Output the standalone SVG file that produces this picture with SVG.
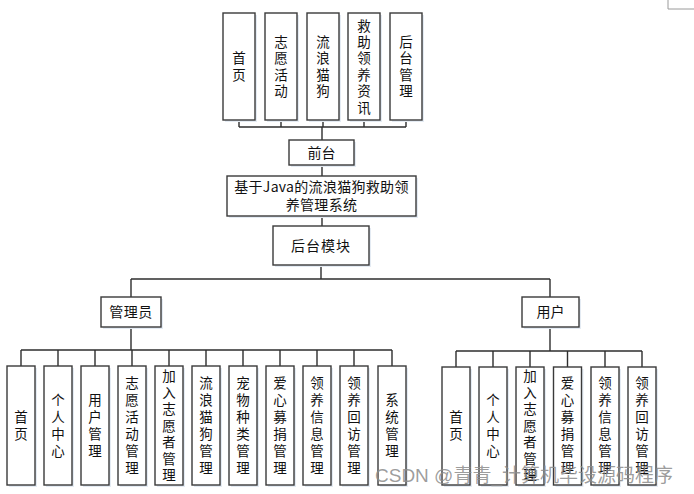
<svg xmlns="http://www.w3.org/2000/svg" width="694" height="494" viewBox="0 0 694 494">
<style>
.bx{fill:#fff;stroke:#3a3a3a;stroke-width:1.4}
.sh{fill:#e4ebf3;stroke:none}
.ln{fill:none;stroke:#2e2e2e;stroke-width:1.4}
.t{font-family:"Noto Sans CJK SC","Liberation Sans",sans-serif;font-size:14px;fill:#111}
.v{font-size:13.5px}
.c{text-anchor:middle}
.wm{font-family:"Liberation Sans","Noto Sans CJK SC",sans-serif;font-size:19px;fill:#8c8c8c;fill-opacity:0.85}
</style>
<rect width="694" height="494" fill="#fff"/>
<path d="M668 0V9H694" fill="none" stroke="#9a9a9a" stroke-width="1"/>

<g id="connectors">
<path class="ln" d="M239 120V127M281 120V127M323 120V127M364 120V127M406 120V127M239 127H406M322 127V140"/>
<path class="ln" d="M322 165V176M322 216V226M321 265V279M131 279H550M131 279V297M550 279V297"/>
<path class="ln" d="M131 327V350M21 350H392M21 350V366M58 350V366M95 350V366M132 350V366M169 350V366M206 350V366M243 350V366M280 350V366M317 350V366M354 350V366M392 350V366"/>
<path class="ln" d="M550 327V351M456 351H642M456 351V367M493 351V367M530 351V367M567.5 351V367M605 351V367M642 351V367"/>
</g>

<!-- top row -->
<g id="n-home-top"><rect class="sh" x="225" y="15" width="32" height="107"/><rect class="bx" x="223" y="13" width="32" height="107"/>
<text class="t v c"><tspan x="239" y="63">首</tspan><tspan x="239" y="80">页</tspan></text></g>
<g id="n-volunteer"><rect class="sh" x="267" y="15" width="32" height="107"/><rect class="bx" x="265" y="13" width="32" height="107"/>
<text class="t v c"><tspan x="281" y="47">志</tspan><tspan x="281" y="63">愿</tspan><tspan x="281" y="80">活</tspan><tspan x="281" y="96">动</tspan></text></g>
<g id="n-pets"><rect class="sh" x="309" y="15" width="32" height="107"/><rect class="bx" x="307" y="13" width="32" height="107"/>
<text class="t v c"><tspan x="323" y="47">流</tspan><tspan x="323" y="63">浪</tspan><tspan x="323" y="80">猫</tspan><tspan x="323" y="96">狗</tspan></text></g>
<g id="n-info"><rect class="sh" x="350" y="15" width="32" height="107"/><rect class="bx" x="348" y="13" width="32" height="107"/>
<text class="t v c"><tspan x="364" y="30.5">救</tspan><tspan x="364" y="47">助</tspan><tspan x="364" y="63.3">领</tspan><tspan x="364" y="79.7">养</tspan><tspan x="364" y="96">资</tspan><tspan x="364" y="112.5">讯</tspan></text></g>
<g id="n-backend-top"><rect class="sh" x="392" y="15" width="32" height="107"/><rect class="bx" x="390" y="13" width="32" height="107"/>
<text class="t v c"><tspan x="406" y="47">后</tspan><tspan x="406" y="63">台</tspan><tspan x="406" y="80">管</tspan><tspan x="406" y="96">理</tspan></text></g>

<g id="n-front"><rect class="sh" x="291" y="142" width="65" height="25"/><rect class="bx" x="289" y="140" width="65" height="25"/>
<text class="t c" x="321.5" y="157.5">前台</text></g>

<g id="n-system"><rect class="sh" x="229" y="178" width="189" height="40"/><rect class="bx" x="227" y="176" width="189" height="40"/>
<text class="t c" x="321.5" y="192" letter-spacing="0.3">基于Java的流浪猫狗救助领</text>
<text class="t c" x="321.5" y="210" letter-spacing="0.3">养管理系统</text></g>

<g id="n-backend"><rect class="sh" x="275" y="228" width="96" height="39"/><rect class="bx" x="273" y="226" width="96" height="39"/>
<text class="t c" x="321" y="250.5" letter-spacing="1">后台模块</text></g>

<g id="n-admin"><rect class="sh" x="103" y="299" width="60" height="30"/><rect class="bx" x="101" y="297" width="60" height="30"/>
<text class="t c" x="131" y="317" letter-spacing="0.5">管理员</text></g>

<g id="n-user"><rect class="sh" x="524" y="299" width="57" height="30"/><rect class="bx" x="522" y="297" width="57" height="30"/>
<text class="t c" x="550.5" y="317">用户</text></g>

<!-- admin children -->
<g id="a-home"><rect class="sh" x="9" y="368" width="28" height="119"/><rect class="bx" x="7" y="366" width="28" height="119"/>
<text class="t v c"><tspan x="21" y="422">首</tspan><tspan x="21" y="439">页</tspan></text></g>
<g id="a-center"><rect class="sh" x="46" y="368" width="28" height="119"/><rect class="bx" x="44" y="366" width="28" height="119"/>
<text class="t v c"><tspan x="58" y="405">个</tspan><tspan x="58" y="422">人</tspan><tspan x="58" y="439">中</tspan><tspan x="58" y="456">心</tspan></text></g>
<g id="a-users"><rect class="sh" x="83" y="368" width="28" height="119"/><rect class="bx" x="81" y="366" width="28" height="119"/>
<text class="t v c"><tspan x="95" y="405">用</tspan><tspan x="95" y="422">户</tspan><tspan x="95" y="439">管</tspan><tspan x="95" y="456">理</tspan></text></g>
<g id="a-activity"><rect class="sh" x="120" y="368" width="28" height="119"/><rect class="bx" x="118" y="366" width="28" height="119"/>
<text class="t v c"><tspan x="132" y="388">志</tspan><tspan x="132" y="405">愿</tspan><tspan x="132" y="422">活</tspan><tspan x="132" y="439">动</tspan><tspan x="132" y="456">管</tspan><tspan x="132" y="473">理</tspan></text></g>
<g id="a-join"><rect class="sh" x="157" y="368" width="28" height="119"/><rect class="bx" x="155" y="366" width="28" height="119"/>
<text class="t v c"><tspan x="169" y="381">加</tspan><tspan x="169" y="397.5">入</tspan><tspan x="169" y="414">志</tspan><tspan x="169" y="430.5">愿</tspan><tspan x="169" y="447">者</tspan><tspan x="169" y="463.5">管</tspan><tspan x="169" y="480">理</tspan></text></g>
<g id="a-pets"><rect class="sh" x="194" y="368" width="28" height="119"/><rect class="bx" x="192" y="366" width="28" height="119"/>
<text class="t v c"><tspan x="206" y="388">流</tspan><tspan x="206" y="405">浪</tspan><tspan x="206" y="422">猫</tspan><tspan x="206" y="439">狗</tspan><tspan x="206" y="456">管</tspan><tspan x="206" y="473">理</tspan></text></g>
<g id="a-species"><rect class="sh" x="231" y="368" width="28" height="119"/><rect class="bx" x="229" y="366" width="28" height="119"/>
<text class="t v c"><tspan x="243" y="388">宠</tspan><tspan x="243" y="405">物</tspan><tspan x="243" y="422">种</tspan><tspan x="243" y="439">类</tspan><tspan x="243" y="456">管</tspan><tspan x="243" y="473">理</tspan></text></g>
<g id="a-donate"><rect class="sh" x="268" y="368" width="28" height="119"/><rect class="bx" x="266" y="366" width="28" height="119"/>
<text class="t v c"><tspan x="280" y="388">爱</tspan><tspan x="280" y="405">心</tspan><tspan x="280" y="422">募</tspan><tspan x="280" y="439">捐</tspan><tspan x="280" y="456">管</tspan><tspan x="280" y="473">理</tspan></text></g>
<g id="a-adopt"><rect class="sh" x="305" y="368" width="28" height="119"/><rect class="bx" x="303" y="366" width="28" height="119"/>
<text class="t v c"><tspan x="317" y="388">领</tspan><tspan x="317" y="405">养</tspan><tspan x="317" y="422">信</tspan><tspan x="317" y="439">息</tspan><tspan x="317" y="456">管</tspan><tspan x="317" y="473">理</tspan></text></g>
<g id="a-visit"><rect class="sh" x="342" y="368" width="28" height="119"/><rect class="bx" x="340" y="366" width="28" height="119"/>
<text class="t v c"><tspan x="354" y="388">领</tspan><tspan x="354" y="405">养</tspan><tspan x="354" y="422">回</tspan><tspan x="354" y="439">访</tspan><tspan x="354" y="456">管</tspan><tspan x="354" y="473">理</tspan></text></g>
<g id="a-system"><rect class="sh" x="380" y="368" width="28" height="119"/><rect class="bx" x="378" y="366" width="28" height="119"/>
<text class="t v c"><tspan x="392" y="405">系</tspan><tspan x="392" y="422">统</tspan><tspan x="392" y="439">管</tspan><tspan x="392" y="456">理</tspan></text></g>

<!-- user children -->
<g id="u-home"><rect class="sh" x="444" y="369" width="28" height="118"/><rect class="bx" x="442" y="367" width="28" height="118"/>
<text class="t v c"><tspan x="456" y="422">首</tspan><tspan x="456" y="439">页</tspan></text></g>
<g id="u-center"><rect class="sh" x="481" y="369" width="28" height="118"/><rect class="bx" x="479" y="367" width="28" height="118"/>
<text class="t v c"><tspan x="493" y="405">个</tspan><tspan x="493" y="422">人</tspan><tspan x="493" y="439">中</tspan><tspan x="493" y="456">心</tspan></text></g>
<g id="u-join"><rect class="sh" x="518" y="369" width="28" height="118"/><rect class="bx" x="516" y="367" width="28" height="118"/>
<text class="t v c"><tspan x="530" y="381">加</tspan><tspan x="530" y="397.5">入</tspan><tspan x="530" y="414">志</tspan><tspan x="530" y="430.5">愿</tspan><tspan x="530" y="447">者</tspan><tspan x="530" y="463.5">管</tspan><tspan x="530" y="480">理</tspan></text></g>
<g id="u-donate"><rect class="sh" x="555.5" y="369" width="28" height="118"/><rect class="bx" x="553.5" y="367" width="28" height="118"/>
<text class="t v c"><tspan x="567.5" y="388">爱</tspan><tspan x="567.5" y="405">心</tspan><tspan x="567.5" y="422">募</tspan><tspan x="567.5" y="439">捐</tspan><tspan x="567.5" y="456">管</tspan><tspan x="567.5" y="473">理</tspan></text></g>
<g id="u-adopt"><rect class="sh" x="593" y="369" width="28" height="118"/><rect class="bx" x="591" y="367" width="28" height="118"/>
<text class="t v c"><tspan x="605" y="388">领</tspan><tspan x="605" y="405">养</tspan><tspan x="605" y="422">信</tspan><tspan x="605" y="439">息</tspan><tspan x="605" y="456">管</tspan><tspan x="605" y="473">理</tspan></text></g>
<g id="u-visit"><rect class="sh" x="630" y="369" width="28" height="118"/><rect class="bx" x="628" y="367" width="28" height="118"/>
<text class="t v c"><tspan x="642" y="388">领</tspan><tspan x="642" y="405">养</tspan><tspan x="642" y="422">回</tspan><tspan x="642" y="439">访</tspan><tspan x="642" y="456">管</tspan><tspan x="642" y="473">理</tspan></text></g>

<text class="wm" x="375" y="482">CSDN @青青_计算机毕设源码程序</text>
</svg>
